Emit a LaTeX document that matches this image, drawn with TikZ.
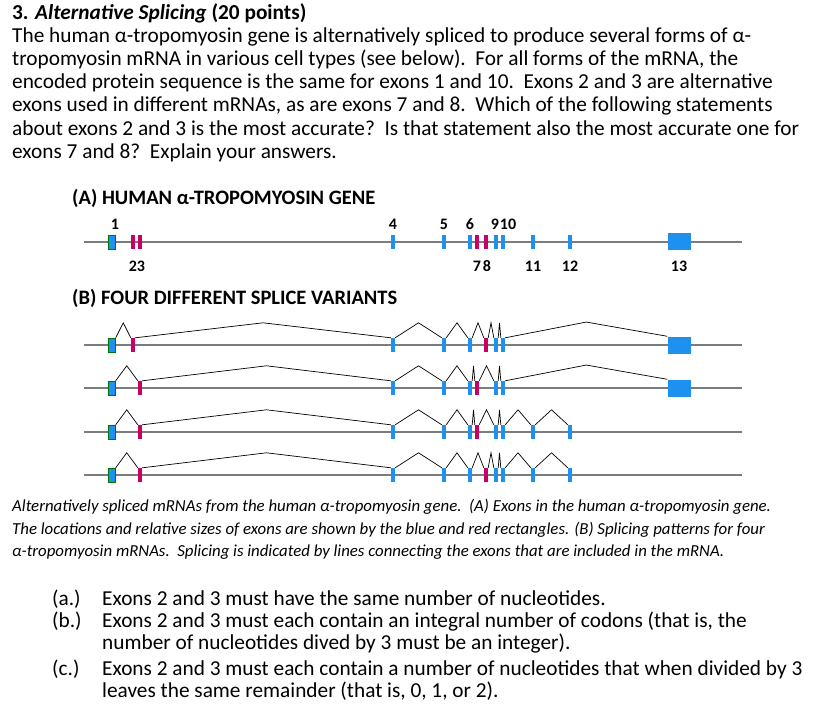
\documentclass[tikz,border=0pt]{standalone}
\usepackage{fontspec}
\setmainfont{Carlito}
\usetikzlibrary{calc}
\definecolor{exblue}{RGB}{30,144,240}
\definecolor{exred}{RGB}{200,0,100}
\definecolor{lgrey}{RGB}{120,125,125}
\begin{document}
\begin{tikzpicture}[x=1pt,y=-1pt,
  txt/.style={anchor=base west,inner sep=0,font=\fontsize{21.3}{24}\selectfont},
  captxt/.style={anchor=base west,inner sep=0,font=\fontsize{16.8}{18}\selectfont\itshape},
  hdr/.style={anchor=base west,inner sep=0,font=\fontsize{20.5}{22}\selectfont\bfseries},
  num/.style={inner sep=0,font=\fontsize{16}{18}\selectfont\bfseries},
  gline/.style={draw=lgrey,line width=2.6pt},
  exon/.style={rectangle,inner sep=0,minimum width=4,minimum height=14,fill=exblue},
  redex/.style={fill=exred},
  e1/.style={minimum width=7,draw=green!45!black,line width=0.4pt},
  e2/.style={redex},e3/.style={redex},e7/.style={redex},e8/.style={redex},
  e4/.style={},e5/.style={},e6/.style={},e9/.style={},e10/.style={},e11/.style={},e12/.style={},
  e13/.style={minimum width=23,minimum height=17},
  splice/.style={draw=black,line width=0.7pt}]
\useasboundingbox (0,0) rectangle (837,708);
% question text
\node[txt] (t0) at (12,20) {\textbf{3. \textit{Alternative Splicing}} \textbf{(20 points)}};
\node[txt] (t1) at (12,43) {The human α-tropomyosin gene is alternatively spliced to produce several forms of α-};
\node[txt] (t2) at (12,66) {tropomyosin mRNA in various cell types (see below).\ \ For all forms of the mRNA, the};
\node[txt] (t3) at (12,89) {encoded protein sequence is the same for exons 1 and 10.\ \ Exons 2 and 3 are alternative};
\node[txt] (t4) at (12,112) {exons used in different mRNAs, as are exons 7 and 8.\ \ Which of the following statements};
\node[txt] (t5) at (12,136) {about exons 2 and 3 is the most accurate?\ \ Is that statement also the most accurate one for};
\node[txt] (t6) at (12,159) {exons 7 and 8?\ \ Explain your answers.};
% headers
\node[hdr] (ha) at (72,205) {(A) HUMAN α-TROPOMYOSIN GENE};
\node[hdr] (hb) at (72,305) {(B) FOUR DIFFERENT SPLICE VARIANTS};
% exon x positions
\foreach \n/\x in {1/112,2/133,3/140,4/393,5/444,6/470,7/477,8/486,9/496,10/503,11/533,12/570,13/679}
  \coordinate (g\n) at (\x,242);
% gene
\draw[gline] (84,242) coordinate (gl) -- (742,242) coordinate (gr);
\foreach \n in {1,...,13} \node[exon,e\n] (ge\n) at (g\n) {};
\foreach \n/\x in {1/115,4/393,5/444,6/470,9/495,10/508} \node[num] (la\n) at (\x,224) {\n};
\foreach \n/\x in {2/133,3/141,7/477,8/487,11/533,12/570,13/679} \node[num] (lb\n) at (\x,266) {\n};
% splice variants
\foreach \r/\y/\lst in {1/345/{1,2,4,5,6,8,9,10,13},2/388/{1,3,4,5,6,7,9,10,13},3/432/{1,3,4,5,6,7,9,10,11,12},4/475/{1,3,4,5,6,8,9,10,11,12}}{
  \draw[gline] (84,\y) -- (742,\y);
  \foreach \e [remember=\e as \p (initially 0)] in \lst {
    \node[exon,e\e] (r\r e\e) at (g\e |- 0,\y) {};
    \ifnum\p>0
      \draw[splice] (r\r e\p.north east) -- ($(r\r e\p.north east)!0.5!(r\r e\e.north west)+(0,-15)$) -- (r\r e\e.north west);
    \fi
  }
}
% caption
\node[captxt] (c1) at (12,511) {Alternatively spliced mRNAs from the human α-tropomyosin gene.\ \ (A) Exons in the human α-tropomyosin gene.};
\node[captxt] (c2) at (12,534) {The locations and relative sizes of exons are shown by the blue and red rectangles. (B) Splicing patterns for four};
\node[captxt] (c3) at (12,556) {α-tropomyosin mRNAs.\ \ Splicing is indicated by lines connecting the exons that are included in the mRNA.};
% answers
\node[txt] (a1) at (52,605) {(a.)};
\node[txt] (a1t) at (102,605) {Exons 2 and 3 must have the same number of nucleotides.};
\node[txt] (a2) at (52,627) {(b.)};
\node[txt] (a2t) at (102,627) {Exons 2 and 3 must each contain an integral number of codons (that is, the};
\node[txt] (a2u) at (102,649) {number of nucleotides dived by 3 must be an integer).};
\node[txt] (a3) at (52,675) {(c.)};
\node[txt] (a3t) at (102,675) {Exons 2 and 3 must each contain a number of nucleotides that when divided by 3};
\node[txt] (a3u) at (102,697) {leaves the same remainder (that is, 0, 1, or 2).};
\end{tikzpicture}
\end{document}
